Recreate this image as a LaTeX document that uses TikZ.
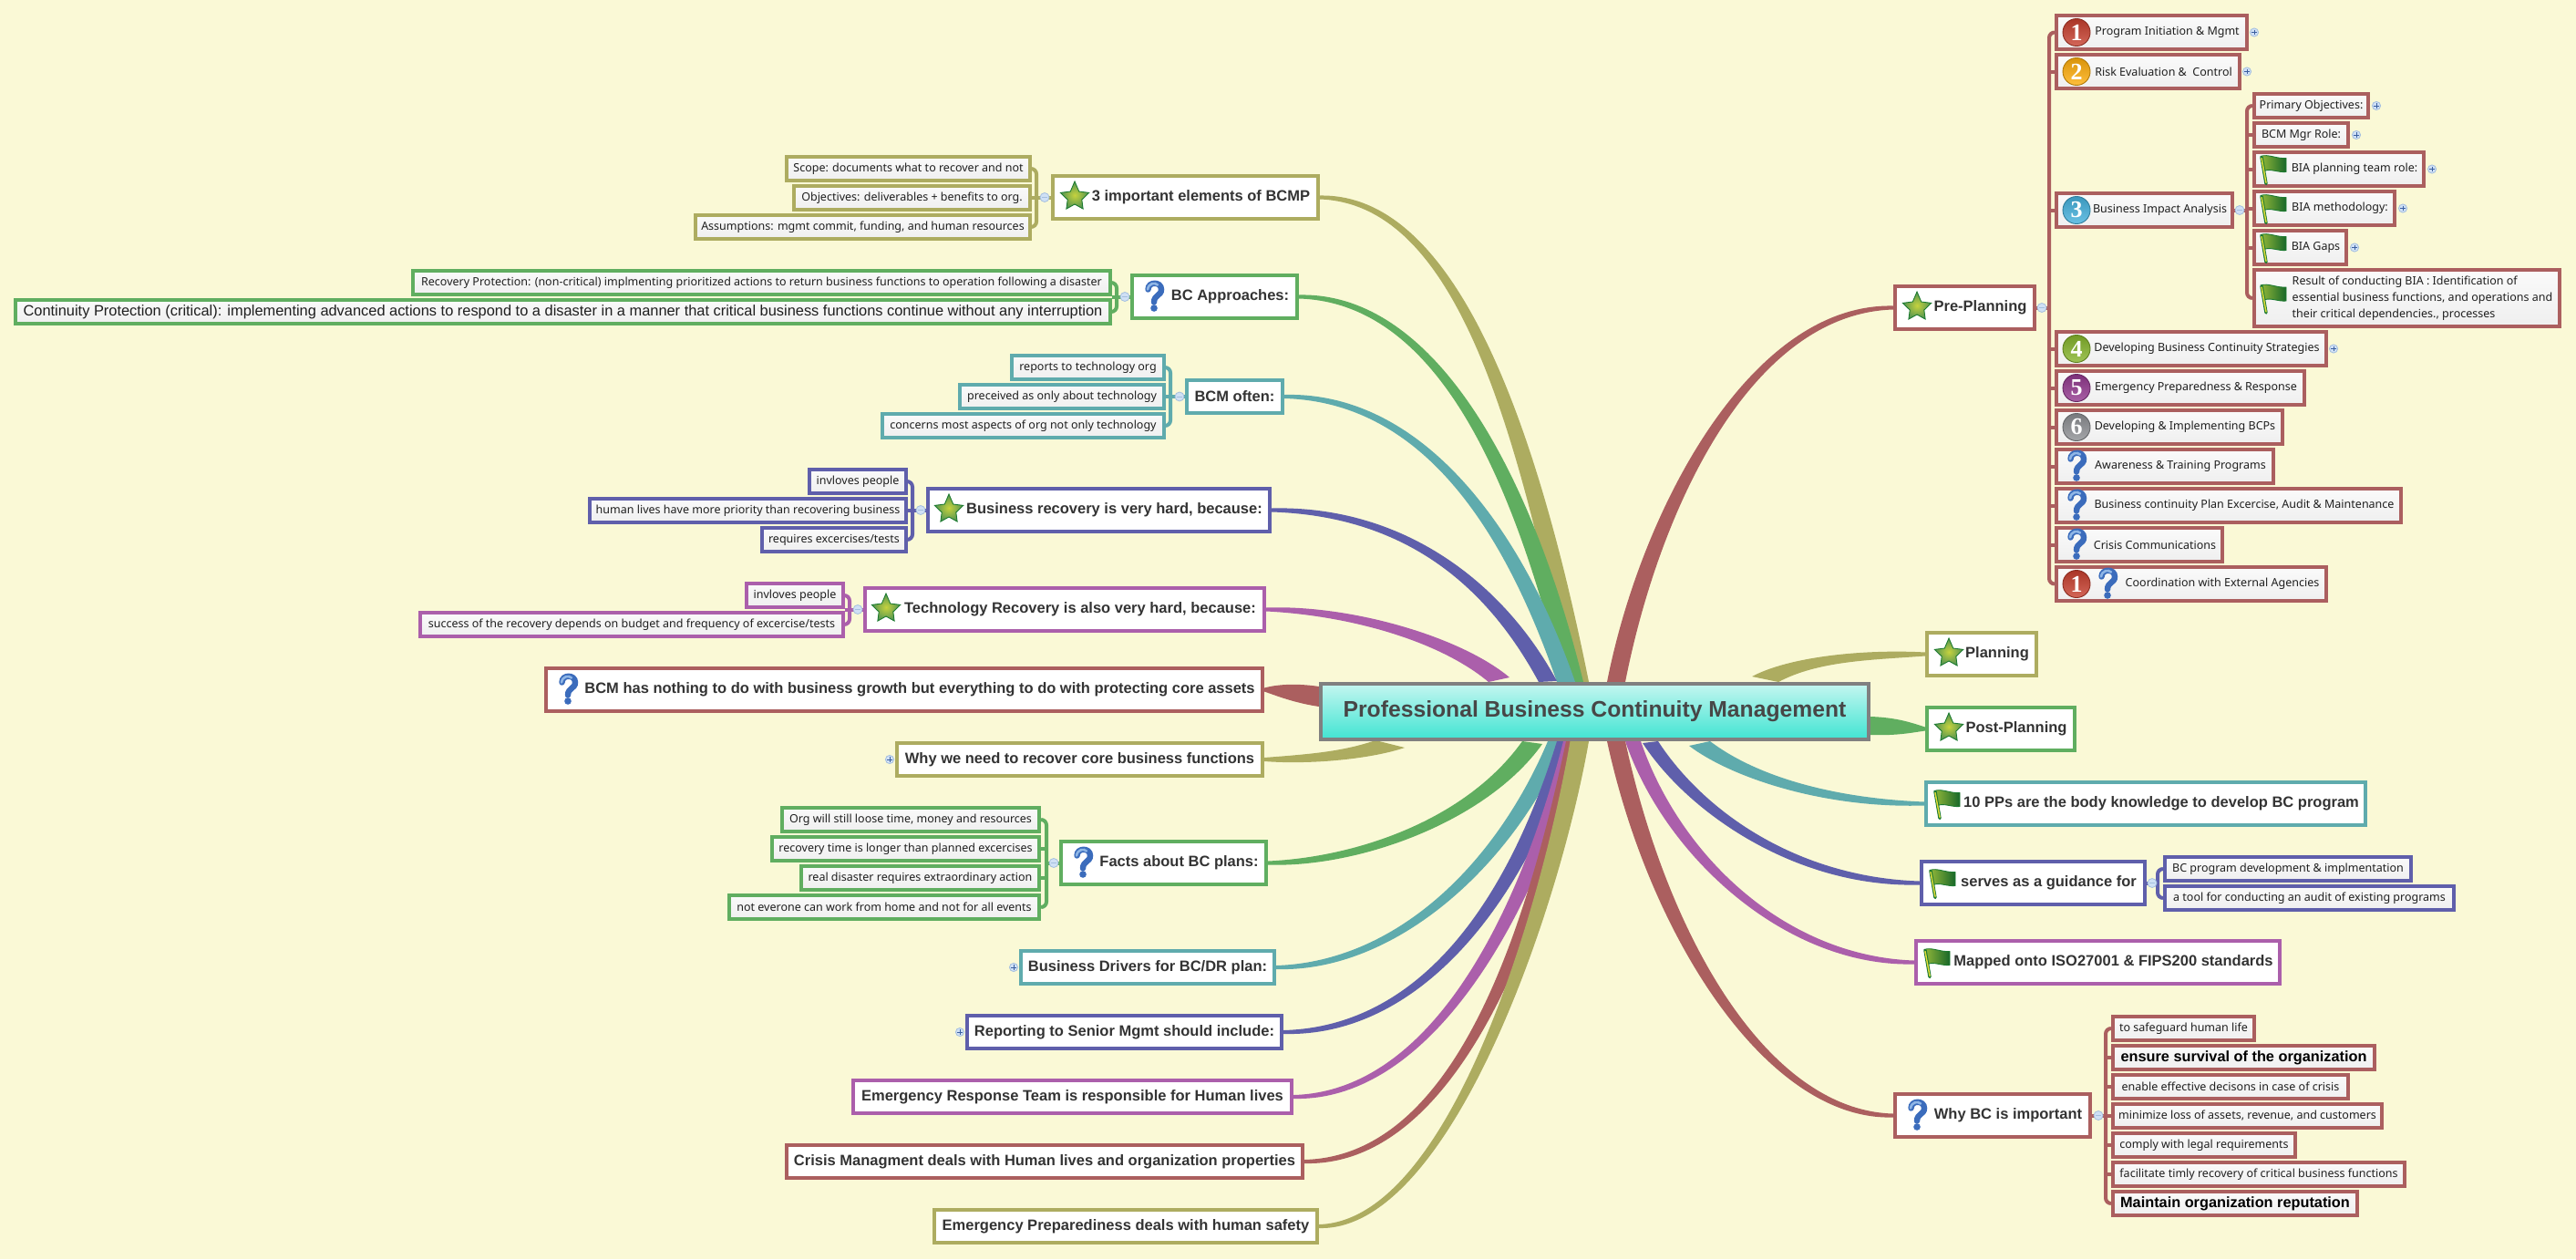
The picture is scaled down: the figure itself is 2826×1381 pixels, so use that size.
\documentclass[tikz,border=0pt]{standalone}
\usepackage{fontspec}
\setmainfont{Noto Sans}
\newfontfamily\arialfont{Liberation Sans}
\newfontfamily\digitfont{Liberation Serif}
\usetikzlibrary{calc,backgrounds}

\definecolor{paper}{HTML}{FAF9D6}
\definecolor{limbolive}{HTML}{ADAC60}
\definecolor{limbgreen}{HTML}{60AE60}
\definecolor{limbteal}{HTML}{5FABAD}
\definecolor{limbblue}{HTML}{5F5FAB}
\definecolor{limbpink}{HTML}{AB5FAB}
\definecolor{limbred}{HTML}{AB5F5F}
\definecolor{hubtop}{HTML}{C4F6F0}
\definecolor{hubbot}{HTML}{40E4D2}
\definecolor{leaftop}{HTML}{FAFAFA}
\definecolor{leafbot}{HTML}{EFEFEF}
\definecolor{btnfill}{HTML}{CFE0F5}
\definecolor{btnline}{HTML}{A4BFDF}
\definecolor{btnmark}{HTML}{3A5FA0}
\definecolor{qlight}{HTML}{8FB6E6}
\definecolor{qdark}{HTML}{3B6CBC}
\definecolor{leafdark}{HTML}{1C7A30}
\definecolor{leaflime}{HTML}{C6D23E}
\definecolor{poleyellow}{HTML}{E6DF3A}
\definecolor{ballred}{HTML}{C8402F}
\definecolor{ballorange}{HTML}{FFAE0C}
\definecolor{ballblue}{HTML}{45B2DE}
\definecolor{ballgreen}{HTML}{86B52C}
\definecolor{ballpurple}{HTML}{93398F}
\definecolor{ballgray}{HTML}{8E9094}

\newcommand{\ico}{\hspace*{34pt}}
% tapered branch from the hub out to a topic
\newcommand{\limb}[7]{%
  \fill[#1] ($(#2)+(#3)$) .. controls ($(#5)+0.5*(#3)-0.5*(#4)$) and ($(#6)+(0,-6)$) .. ($(#7)+(0,-2)$)
    -- ($(#7)+(0,2)$) .. controls ($(#6)+(0,6)$) and ($(#5)-0.5*(#3)+0.5*(#4)$) .. ($(#2)+(#4)$) -- cycle;
}
% numbered ball
\newcommand{\ballmark}[3]{%
  \draw[#2!70!black, line width=.9, top color=#2!85!black, bottom color=#2!80!white] ([xshift=24]#1.west) circle (15);
  \node[digit] (#1-digit) at ([xshift=24]#1.west) {#3};
}

\tikzset{
  dims/.style 2 args={minimum width=#1-4, minimum height=#2-4},
  hub/.style={draw=gray, line width=4, top color=hubtop, bottom color=hubbot, anchor=north west, inner sep=0,
    text=black!72, font=\arialfont\bfseries\fontsize{24.7}{28}\selectfont},
  topic/.style={draw=#1, line width=4, fill=white, anchor=north west, inner sep=0,
    text=black!80, font=\arialfont\bfseries\fontsize{16.5}{19}\selectfont},
  leaf/.style={draw=#1, line width=4, top color=leaftop, bottom color=leafbot, anchor=north west, inner sep=0,
    text=black!88, font=\fontsize{12.5}{18}\selectfont},
  bigleaf/.style={font=\arialfont\fontsize{16.4}{20}\selectfont},
  boldleaf/.style={text=black, font=\arialfont\bfseries\fontsize{16.3}{19}\selectfont},
  twig/.style={draw=#1, line width=4, rounded corners=6},
  digit/.style={text=white, inner sep=0, font=\digitfont\bfseries\fontsize{26}{26}\selectfont},
  plusbtn/.pic={
    \draw[btnline, fill=btnfill, line width=.8] (0,0) circle (4.6);
    \draw[btnmark, line width=.9] (-2.6,0) -- (2.6,0) (0,-2.6) -- (0,2.6);
  },
  minusbtn/.pic={
    \draw[btnline, fill=btnfill, line width=.8] (0,0) circle (5);
    \draw[btnline, line width=.9] (-2.6,0) -- (2.6,0);
  },
  starmark/.pic={
    \draw[leafdark, line width=.9, inner color=leaflime, outer color=limbgreen!85!black]
      (-90:17.5) -- (-54:8) -- (-18:16.5) -- (18:8.2) -- (54:15.5) -- (90:7.5)
      -- (126:15.5) -- (162:8.2) -- (198:16.5) -- (234:8) -- cycle;
  },
  querymark/.pic={
    \draw[qdark, line width=6.4, line cap=round] (-6.5,-8) .. controls (-6.5,-17) and (8,-17) .. (8,-8)
      .. controls (8,-1) and (0,-2) .. (0,6);
    \draw[qlight, line width=2.6, line cap=round] (-7,-8) .. controls (-6,-15) and (1,-16) .. (4,-13);
    \fill[qdark] (0,12.5) circle (3.8);
  },
  flagmark/.pic={
    \draw[leafdark, line width=.9, left color=leaflime!70!leafdark, right color=leafdark!85!black]
      (-14,-14) .. controls (-6,-17) and (4,-11) .. (14,-12) -- (14,3)
      .. controls (6,4) and (-4,-1) .. (-10,2) -- cycle;
    \draw[leafdark, line width=3.4, line cap=round] (-13,-13) -- (-8,16);
    \draw[poleyellow, line width=1.4, line cap=round] (-13,-12) -- (-8,15);
  },
}

\begin{document}
\begin{tikzpicture}[x=1pt, y=-1pt]

    % Hub
    \node[hub, dims={605}{65}] (centre) at (1447,748) {Professional Business Continuity Management};

    % Left topics, top half
    \node[topic=limbolive, dims={295}{51}] (elements) at (1153,191) {\ico 3 important elements of BCMP};
    \node[leaf=limbolive, dims={271}{30}] (scope) at (861,170) {Scope: documents what to recover and not};
    \node[leaf=limbolive, dims={263}{30}] (objectives) at (869,202) {Objectives: deliverables + benefits to org.};
    \node[leaf=limbolive, dims={371}{30}] (assumptions) at (761,234) {Assumptions: mgmt commit, funding, and human resources};

    \node[topic=limbgreen, dims={185}{51}] (approaches) at (1240,300) {\ico BC Approaches:};
    \node[leaf=limbgreen, dims={769}{30}] (recoveryprot) at (451,295) {Recovery Protection: (non-critical) implmenting prioritized actions to return business functions to operation following a disaster};
    \node[leaf=limbgreen, bigleaf, dims={1205}{30}] (continuityprot) at (15,327) {Continuity Protection (critical): implementing advanced actions to respond to a disaster in a manner that critical business functions continue without any interruption};

    \node[topic=limbteal, dims={109}{40}] (often) at (1300,415) {BCM often:};
    \node[leaf=limbteal, dims={171}{30}] (reports) at (1108,388) {reports to technology org};
    \node[leaf=limbteal, dims={228}{30}] (preceived) at (1051,420) {preceived as only about technology};
    \node[leaf=limbteal, dims={313}{30}] (concerns) at (966,452) {concerns most aspects of org not only technology};

    \node[topic=limbblue, dims={379}{51}] (bizhard) at (1016,534) {\ico Business recovery is very hard, because:};
    \node[leaf=limbblue, dims={110}{30}] (peoplea) at (886,513) {invloves people};
    \node[leaf=limbblue, dims={351}{30}] (lives) at (645,545) {human lives have more priority than recovering business};
    \node[leaf=limbblue, dims={162}{30}] (requires) at (834,577) {requires excercises/tests};

    \node[topic=limbpink, dims={442}{51}] (techhard) at (947,643) {\ico Technology Recovery is also very hard, because:};
    \node[leaf=limbpink, dims={110}{30}] (peopleb) at (817,638) {invloves people};
    \node[leaf=limbpink, dims={468}{30}] (success) at (459,670) {success of the recovery depends on budget and frequency of excercise/tests};

    \node[topic=limbred, dims={790}{51}] (growth) at (597,731) {\ico BCM has nothing to do with business growth but everything to do with protecting core assets};

    % Left topics, bottom half
    \node[topic=limbolive, dims={405}{40}] (whyneed) at (982,813) {Why we need to recover core business functions};

    \node[topic=limbgreen, dims={229}{51}] (facts) at (1162,921) {\ico Facts about BC plans:};
    \node[leaf=limbgreen, dims={286}{30}] (loose) at (856,884) {Org will still loose time, money and resources};
    \node[leaf=limbgreen, dims={297}{30}] (longer) at (845,916) {recovery time is longer than planned excercises};
    \node[leaf=limbgreen, dims={265}{30}] (realdis) at (877,948) {real disaster requires extraordinary action};
    \node[leaf=limbgreen, dims={344}{30}] (everone) at (798,980) {not everone can work from home and not for all events};

    \node[topic=limbteal, dims={282}{40}] (drivers) at (1118,1041) {Business Drivers for BC/DR plan:};
    \node[topic=limbblue, dims={349}{40}] (reporting) at (1059,1112) {Reporting to Senior Mgmt should include:};
    \node[topic=limbpink, dims={485}{40}] (responseteam) at (934,1183) {Emergency Response Team is responsible for Human lives};
    \node[topic=limbred, dims={570}{40}] (crisismgmt) at (861,1254) {Crisis Managment deals with Human lives and organization properties};
    \node[topic=limbolive, dims={424}{40}] (prepared) at (1023,1325) {Emergency Preparediness deals with human safety};

    % Pre-Planning and its children
    \node[topic=limbred, dims={157}{51}] (preplan) at (2077,312) {\ico Pre-Planning};
    \node[leaf=limbred, dims={213}{41}] (initiation) at (2254,15) {\ico Program Initiation \& Mgmt};
    \node[leaf=limbred, dims={205}{41}] (riskeval) at (2254,58) {\ico Risk Evaluation \&\ \ Control};
    \node[leaf=limbred, dims={197}{41}] (impact) at (2254,210) {\ico Business Impact Analysis};
    \node[leaf=limbred, dims={300}{41}] (strategies) at (2254,362) {\ico Developing Business Continuity Strategies};
    \node[leaf=limbred, dims={276}{41}] (emergency) at (2254,405) {\ico Emergency Preparedness \& Response};
    \node[leaf=limbred, dims={252}{41}] (implementing) at (2254,448) {\ico Developing \& Implementing BCPs};
    \node[leaf=limbred, dims={242}{41}] (awareness) at (2254,491) {\ico Awareness \& Training Programs};
    \node[leaf=limbred, dims={382}{41}] (exercise) at (2254,534) {\ico Business continuity Plan Excercise, Audit \& Maintenance};
    \node[leaf=limbred, dims={186}{41}] (crisiscomm) at (2254,577) {\ico Crisis Communications};
    \node[leaf=limbred, dims={300}{41}] (coordination) at (2254,620) {\hspace*{68pt}Coordination with External Agencies};

    % Business Impact Analysis children
    \node[leaf=limbred, dims={129}{30}] (primary) at (2471,101) {Primary Objectives:};
    \node[leaf=limbred, dims={107}{30}] (mgrrole) at (2471,133) {BCM Mgr Role:};
    \node[leaf=limbred, dims={190}{41}] (teamrole) at (2471,165) {\ico BIA planning team role:};
    \node[leaf=limbred, dims={158}{41}] (method) at (2471,208) {\ico BIA methodology:};
    \node[leaf=limbred, dims={105}{41}] (gaps) at (2471,251) {\ico BIA Gaps};
    \node[leaf=limbred, dims={339}{66}, align=left] (result) at (2471,294) {\ico Result of conducting BIA : Identification of\\\ico essential business functions, and operations and\\\ico their critical dependencies., processes};

    % Right topics
    \node[topic=limbolive, dims={124}{51}] (planning) at (2112,692) {\ico Planning};
    \node[topic=limbgreen, dims={166}{51}] (postplan) at (2112,774) {\ico Post-Planning};
    \node[topic=limbteal, dims={486}{51}] (tenpps) at (2111,856) {\ico 10 PPs are the body knowledge to develop BC program};
    \node[topic=limbblue, dims={249}{51}] (guidance) at (2106,943) {\ico serves as a guidance for};
    \node[leaf=limbblue, dims={274}{30}] (development) at (2373,938) {BC program development \& implmentation};
    \node[leaf=limbblue, dims={321}{30}] (audit) at (2373,970) {a tool for conducting an audit of existing programs};
    \node[topic=limbpink, dims={403}{51}] (mapped) at (2100,1030) {\ico Mapped onto ISO27001 \& FIPS200 standards};

    % Why BC is important and its children
    \node[topic=limbred, dims={218}{51}] (whybc) at (2077,1198) {\ico Why BC is important};
    \node[leaf=limbred, dims={159}{30}] (safeguard) at (2316,1113) {to safeguard human life};
    \node[leaf=limbred, boldleaf, dims={291}{30}] (survival) at (2316,1145) {ensure survival of the organization};
    \node[leaf=limbred, dims={262}{30}] (decisions) at (2316,1177) {enable effective decisons in case of crisis};
    \node[leaf=limbred, dims={299}{30}] (minimize) at (2316,1209) {minimize loss of assets, revenue, and customers};
    \node[leaf=limbred, dims={204}{30}] (comply) at (2316,1241) {comply with legal requirements};
    \node[leaf=limbred, dims={324}{30}] (facilitate) at (2316,1273) {facilitate timly recovery of critical business functions};
    \node[leaf=limbred, boldleaf, dims={272}{30}] (reputation) at (2316,1305) {Maintain organization reputation};

    % Icons
    \pic at ([xshift=26]elements.west) {starmark};
    \pic at ([xshift=26]approaches.west) {querymark};
    \pic at ([xshift=25]bizhard.west) {starmark};
    \pic at ([xshift=25]techhard.west) {starmark};
    \pic at ([xshift=26]growth.west) {querymark};
    \pic at ([xshift=26]facts.west) {querymark};
    \pic at ([xshift=26]preplan.west) {starmark};
    \pic at ([xshift=26]planning.west) {starmark};
    \pic at ([xshift=26]postplan.west) {starmark};
    \pic at ([xshift=25]tenpps.west) {flagmark};
    \pic at ([xshift=25]guidance.west) {flagmark};
    \pic at ([xshift=25]mapped.west) {flagmark};
    \pic at ([xshift=26]whybc.west) {querymark};
    \pic at ([xshift=23]teamrole.west) {flagmark};
    \pic at ([xshift=23]method.west) {flagmark};
    \pic at ([xshift=23]gaps.west) {flagmark};
    \pic at ([xshift=23]result.west) {flagmark};
    \pic at ([xshift=24]awareness.west) {querymark};
    \pic at ([xshift=24]exercise.west) {querymark};
    \pic at ([xshift=24]crisiscomm.west) {querymark};
    \pic at ([xshift=58]coordination.west) {querymark};
    \ballmark{initiation}{ballred}{1}
    \ballmark{riskeval}{ballorange}{2}
    \ballmark{impact}{ballblue}{3}
    \ballmark{strategies}{ballgreen}{4}
    \ballmark{emergency}{ballpurple}{5}
    \ballmark{implementing}{ballgray}{6}
    \ballmark{coordination}{ballred}{1}

    % Collapse buttons
    \pic at ([xshift=-7]elements.west) {minusbtn};
    \pic at ([xshift=-6]approaches.west) {minusbtn};
    \pic at ([xshift=-6]often.west) {minusbtn};
    \pic at ([xshift=-6]bizhard.west) {minusbtn};
    \pic at ([xshift=-6]techhard.west) {minusbtn};
    \pic at ([xshift=-6]facts.west) {minusbtn};
    \pic at ([xshift=6]preplan.east) {minusbtn};
    \pic at ([xshift=6]impact.east) {minusbtn};
    \pic at ([xshift=6]guidance.east) {minusbtn};
    \pic at ([xshift=7]whybc.east) {minusbtn};
    \pic at ([xshift=-6]whyneed.west) {plusbtn};
    \pic at ([xshift=-6]drivers.west) {plusbtn};
    \pic at ([xshift=-6]reporting.west) {plusbtn};
    \pic at ([xshift=6]initiation.east) {plusbtn};
    \pic at ([xshift=6]riskeval.east) {plusbtn};
    \pic at ([xshift=6]strategies.east) {plusbtn};
    \pic at ([xshift=7]primary.east) {plusbtn};
    \pic at ([xshift=7]mgrrole.east) {plusbtn};
    \pic at ([xshift=7]teamrole.east) {plusbtn};
    \pic at ([xshift=7]method.east) {plusbtn};
    \pic at ([xshift=7]gaps.east) {plusbtn};

    \begin{scope}[on background layer]
    \fill[paper] (0,0) rectangle (2826,1381);

    % Branches, clockwise from the top left
    \limb{limbolive}{centre.north}{-6.5,0}{-28.5,0}{1670,440}{1590,218}{elements.east}
    \limb{limbgreen}{centre.north}{-12.5,0}{-34.5,0}{1670,520}{1575,326}{approaches.east}
    \limb{limbteal}{centre.north}{-21.5,0}{-41.5,0}{1660,580}{1560,435}{often.east}
    \limb{limbblue}{centre.north}{-41.5,-1}{-61.5,0}{1640,640}{1540,560}{bizhard.east}
    \limb{limbpink}{centre.north}{-93.5,-5}{-116.5,0}{1590,700}{1480,669}{techhard.east}
    \limb{limbred}{centre.west}{0,-27.5}{0,-5.5}{1420,760}{1400,757}{growth.east}
    \limb{limbolive}{centre.south}{-240.5,-1}{-208.5,7}{1490,828}{1440,833}{whyneed.east}
    \limb{limbgreen}{centre.south}{-79.5,0}{-57.5,3}{1620,900}{1490,946}{facts.east}
    \limb{limbteal}{centre.south}{-51.5,0}{-31.5,0}{1650,950}{1530,1061}{drivers.east}
    \limb{limbblue}{centre.south}{-41.5,0}{-21.5,0}{1665,985}{1560,1132}{reporting.east}
    \limb{limbpink}{centre.south}{-34.5,0}{-14.5,0}{1680,990}{1575,1203}{responseteam.east}
    \limb{limbred}{centre.south}{-31.5,0}{-11.5,0}{1680,1040}{1590,1274}{crisismgmt.east}
    \limb{limbolive}{centre.south}{-27,0}{-6.5,0}{1700,1000}{1590,1345}{prepared.east}
    \limb{limbred}{centre.north}{13.5,0}{33.5,0}{1810,560}{1920,338}{preplan.west}
    \limb{limbolive}{centre.north}{172.5,-6}{201.5,0}{1980,722}{2050,718}{planning.west}
    \limb{limbgreen}{centre.east}{0,5.5}{0,25.5}{2080,797}{2095,798}{postplan.west}
    \limb{limbteal}{centre.south}{126.5,0}{103.5,5}{1910,850}{2000,881}{tenpps.west}
    \limb{limbblue}{centre.south}{69.5,0}{52.5,2}{1860,890}{1970,968}{guidance.west}
    \limb{limbpink}{centre.south}{50.5,0}{33.5,0}{1835,940}{1960,1055}{mapped.west}
    \limb{limbred}{centre.south}{33.5,0}{13.5,0}{1820,1030}{1940,1224}{whybc.west}

    % Left side twigs
    \draw[twig=limbolive] (scope.east) -- ++(5,0) |- (assumptions.east);
    \draw[twig=limbolive] (elements.west) -- (elements.west -| objectives.east);
    \draw[twig=limbgreen] (recoveryprot.east) -- ++(5,0) |- (continuityprot.east);
    \draw[twig=limbgreen] (approaches.west) -- (approaches.west -| recoveryprot.east);
    \draw[twig=limbteal] (reports.east) -- ++(5,0) |- (concerns.east);
    \draw[twig=limbteal] (often.west) -- (often.west -| preceived.east);
    \draw[twig=limbblue] (peoplea.east) -- ++(5,0) |- (requires.east);
    \draw[twig=limbblue] (bizhard.west) -- (bizhard.west -| lives.east);
    \draw[twig=limbpink] (peopleb.east) -- ++(5,0) |- (success.east);
    \draw[twig=limbpink] (techhard.west) -- (techhard.west -| success.east);
    \draw[twig=limbgreen] (loose.east) -- ++(6,0) |- (everone.east);
    \draw[twig=limbgreen] (longer.east) -- ++(6,0);
    \draw[twig=limbgreen] (realdis.east) -- ++(6,0);
    \draw[twig=limbgreen] (facts.west) -- ++(-14,0);

    % Right side twigs
    \draw[twig=limbred] (initiation.west) -- ++(-6,0) |- (coordination.west);
    \draw[twig=limbred] (preplan.east) -- ++(14,0);
    \draw[twig=limbred] (riskeval.west) -- ++(-6,0);
    \draw[twig=limbred] (impact.west) -- ++(-6,0);
    \draw[twig=limbred] (strategies.west) -- ++(-6,0);
    \draw[twig=limbred] (emergency.west) -- ++(-6,0);
    \draw[twig=limbred] (implementing.west) -- ++(-6,0);
    \draw[twig=limbred] (awareness.west) -- ++(-6,0);
    \draw[twig=limbred] (exercise.west) -- ++(-6,0);
    \draw[twig=limbred] (crisiscomm.west) -- ++(-6,0);
    \draw[twig=limbred] (primary.west) -- ++(-6,0) |- (result.west);
    \draw[twig=limbred] (impact.east) -- ++(14,0);
    \draw[twig=limbred] (mgrrole.west) -- ++(-6,0);
    \draw[twig=limbred] (teamrole.west) -- ++(-6,0);
    \draw[twig=limbred] (method.west) -- ++(-6,0);
    \draw[twig=limbred] (gaps.west) -- ++(-6,0);
    \draw[twig=limbblue] (development.west) -- ++(-6,0) |- (audit.west);
    \draw[twig=limbblue] (guidance.east) -- ++(12,0);
    \draw[twig=limbred] (safeguard.west) -- ++(-6,0) |- (reputation.west);
    \draw[twig=limbred] (whybc.east) -- ++(15,0);
    \draw[twig=limbred] (survival.west) -- ++(-6,0);
    \draw[twig=limbred] (decisions.west) -- ++(-6,0);
    \draw[twig=limbred] (minimize.west) -- ++(-6,0);
    \draw[twig=limbred] (comply.west) -- ++(-6,0);
    \draw[twig=limbred] (facilitate.west) -- ++(-6,0);
    \end{scope}

\end{tikzpicture}
\end{document}
